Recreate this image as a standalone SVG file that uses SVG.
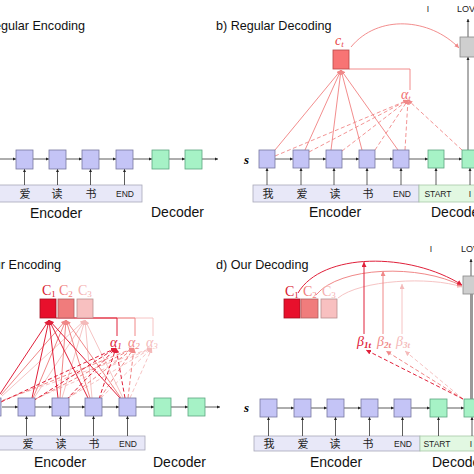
<svg xmlns="http://www.w3.org/2000/svg" width="474" height="474" viewBox="0 0 474 474">
<defs>
<marker id="ab" viewBox="0 0 6 6" refX="6" refY="3" markerWidth="4" markerHeight="4" orient="auto"><path d="M0,0L6,3L0,6z" fill="#222"/></marker>
<marker id="ar1" viewBox="0 0 6 6" refX="6" refY="3" markerWidth="5" markerHeight="5" orient="auto"><path d="M0,0L6,3L0,6z" fill="#e0203a"/></marker>
<marker id="ar2" viewBox="0 0 6 6" refX="6" refY="3" markerWidth="5" markerHeight="5" orient="auto"><path d="M0,0L6,3L0,6z" fill="#f08888"/></marker>
<marker id="ar3" viewBox="0 0 6 6" refX="6" refY="3" markerWidth="5" markerHeight="5" orient="auto"><path d="M0,0L6,3L0,6z" fill="#f4baba"/></marker>
</defs>
<style>
.enc{fill:#c4c4f6;stroke:#7878a0;stroke-width:0.8}
.dec{fill:#a6f2c6;stroke:#5ea680;stroke-width:0.8}
.gray{fill:#cfcfcf;stroke:#888;stroke-width:0.8}
.bar{fill:#e8e8f8;stroke:#a8a8b8;stroke-width:0.8}
.barg{fill:#e2f8e2;stroke:#a8c8a8;stroke-width:0.8}
.ln{stroke:#333;stroke-width:0.8;fill:none;marker-end:url(#ab)}
.title{font-family:"Liberation Sans",Arial,sans-serif;font-size:12.6px;fill:#111}
.big{font-family:"Liberation Sans",Arial,sans-serif;font-size:14px;fill:#111}
.tok{font-family:"Liberation Sans","Noto Sans CJK SC",sans-serif;font-size:11px;fill:#222;text-anchor:middle}
.small{font-family:"Liberation Sans",Arial,sans-serif;font-size:8.5px;fill:#222;text-anchor:middle}
.math{font-family:"Liberation Serif","DejaVu Serif",serif;font-style:italic}
.cl{font-family:"Liberation Serif","DejaVu Serif",serif;font-size:14px}
.r1{stroke:#e0203a;fill:none;stroke-width:1}
.r2{stroke:#f08888;fill:none;stroke-width:1}
.r3{stroke:#f6c4c4;fill:none;stroke-width:1}
.d{stroke-dasharray:4 2.5}
</style>

<!-- Panel a -->
<g id="panel-a">
<text class="title" x="85" y="30" text-anchor="end">a) Regular Encoding</text>
<rect class="bar" x="-2" y="185" width="144" height="17"/>
<text class="tok" x="25" y="198">爱</text><text class="tok" x="57" y="198">读</text><text class="tok" x="91" y="198">书</text><text class="small" x="125" y="197">END</text>
<g id="a-connectors">
<line class="ln" x1="0" y1="159" x2="16" y2="159"/>
<line class="ln" x1="33" y1="159" x2="49" y2="159"/>
<line class="ln" x1="66" y1="159" x2="82" y2="159"/>
<line class="ln" x1="99" y1="159" x2="116" y2="159"/>
<line class="ln" x1="133" y1="159" x2="152" y2="159"/>
<line class="ln" x1="169" y1="159" x2="185" y2="159"/>
<line class="ln" x1="202" y1="159" x2="218" y2="159"/>
<line class="ln" x1="24.5" y1="185" x2="24.5" y2="169"/>
<line class="ln" x1="57.5" y1="185" x2="57.5" y2="169"/>
<line class="ln" x1="90.5" y1="185" x2="90.5" y2="169"/>
<line class="ln" x1="124.5" y1="185" x2="124.5" y2="169"/>
</g>
<g id="a-enc1"><rect class="enc" x="16" y="150" width="17" height="19"/></g>
<g id="a-enc2"><rect class="enc" x="49" y="150" width="17" height="19"/></g>
<g id="a-enc3"><rect class="enc" x="82" y="150" width="17" height="19"/></g>
<g id="a-enc4"><rect class="enc" x="116" y="150" width="17" height="19"/></g>
<g id="a-dec1"><rect class="dec" x="152" y="150" width="17" height="19"/></g>
<g id="a-dec2"><rect class="dec" x="185" y="150" width="17" height="19"/></g>
<text class="big" x="30" y="218">Encoder</text>
<text class="big" x="151" y="217">Decoder</text>
</g>

<!-- Panel b -->
<g id="panel-b">
<text class="title" x="216" y="30">b) Regular Decoding</text>
<rect class="bar" x="253" y="185" width="166" height="17"/>
<rect class="barg" x="419" y="185" width="60" height="17"/>
<text class="tok" x="268" y="198">我</text><text class="tok" x="302" y="198">爱</text><text class="tok" x="335" y="198">读</text><text class="tok" x="368" y="198">书</text><text class="small" x="402" y="197">END</text><text class="small" x="438" y="197">START</text><text class="small" x="470" y="197">I</text>
<text class="math" x="244" y="164" font-size="13" font-weight="bold">s</text>
<g id="b-connectors">
<line class="ln" x1="275" y1="159" x2="293" y2="159"/>
<line class="ln" x1="309" y1="159" x2="326" y2="159"/>
<line class="ln" x1="342" y1="159" x2="359" y2="159"/>
<line class="ln" x1="375" y1="159" x2="393" y2="159"/>
<line class="ln" x1="409" y1="159" x2="428" y2="159"/>
<line class="ln" x1="444" y1="159" x2="462" y2="159"/>
<line class="ln" x1="267" y1="185" x2="267" y2="168"/>
<line class="ln" x1="301" y1="185" x2="301" y2="168"/>
<line class="ln" x1="334" y1="185" x2="334" y2="168"/>
<line class="ln" x1="367" y1="185" x2="367" y2="168"/>
<line class="ln" x1="401" y1="185" x2="401" y2="168"/>
<line class="ln" x1="436" y1="185" x2="436" y2="168"/>
<line class="ln" x1="470" y1="185" x2="470" y2="168"/>
<line class="ln" x1="468" y1="150" x2="468" y2="57"/>
<line class="ln" x1="468" y1="37" x2="468" y2="19"/>
<g stroke="#f08080" stroke-width="0.9" fill="none">
<line x1="275" y1="150" x2="341" y2="70" marker-end="url(#ar2)"/>
<line x1="305" y1="150" x2="341" y2="70" marker-end="url(#ar2)"/>
<line x1="331" y1="150" x2="341" y2="70" marker-end="url(#ar2)"/>
<line x1="362" y1="150" x2="341" y2="70" marker-end="url(#ar2)"/>
<line x1="398" y1="150" x2="341" y2="70" marker-end="url(#ar2)"/>
<polyline points="349,69 410,69 410,90"/>
<path d="M351,47 C378,14 430,18 459,48" marker-end="url(#ar2)"/>
</g>
<g stroke="#f08888" stroke-width="0.9" fill="none" stroke-dasharray="4 2.5">
<line x1="275" y1="156" x2="408" y2="100" marker-end="url(#ar2)"/>
<line x1="309" y1="152" x2="408" y2="100" marker-end="url(#ar2)"/>
<line x1="342" y1="151" x2="408" y2="100" marker-end="url(#ar2)"/>
<line x1="375" y1="150" x2="408" y2="100" marker-end="url(#ar2)"/>
<line x1="405" y1="150" x2="408" y2="100" marker-end="url(#ar2)"/>
<line x1="462" y1="150" x2="408" y2="100" marker-end="url(#ar2)"/>
</g>
</g>
<g id="b-enc1"><rect class="enc" x="259" y="150" width="16" height="18"/></g>
<g id="b-enc2"><rect class="enc" x="293" y="150" width="16" height="18"/></g>
<g id="b-enc3"><rect class="enc" x="326" y="150" width="16" height="18"/></g>
<g id="b-enc4"><rect class="enc" x="359" y="150" width="16" height="18"/></g>
<g id="b-enc5"><rect class="enc" x="393" y="150" width="16" height="18"/></g>
<g id="b-dec1"><rect class="dec" x="428" y="150" width="16" height="18"/></g>
<g id="b-dec2"><rect class="dec" x="462" y="150" width="16" height="18"/></g>
<g id="b-ct"><rect x="333" y="50" width="16" height="19" fill="#f87474" stroke="#b84848" stroke-width="0.8"/>
<text class="math" x="335" y="45" font-size="14" fill="#e84848">c<tspan font-size="9" dy="2">t</tspan></text></g>
<g id="b-alpha"><text class="math" x="401" y="99" font-size="14" fill="#f07070">α<tspan font-size="9" dy="2">t</tspan></text></g>
<g id="b-out"><rect class="gray" x="460" y="37" width="17" height="20"/></g>
<text class="small" x="428" y="12" font-size="9">I</text>
<text x="457" y="12" font-family="Liberation Sans,Arial,sans-serif" font-size="9" fill="#222">LOVE</text>
<text class="big" x="309" y="217">Encoder</text>
<text class="big" x="431" y="217">Decoder</text>
</g>

<!-- Panel c -->
<g id="panel-c">
<text class="title" x="61" y="269" text-anchor="end">c) Our Encoding</text>
<rect class="bar" x="-2" y="436" width="147" height="14"/>
<text class="tok" x="28" y="448">爱</text><text class="tok" x="61" y="448">读</text><text class="tok" x="94" y="448">书</text><text class="small" x="128" y="447">END</text>
<g id="c-connectors">
<g class="r3">
<line x1="2" y1="396" x2="85" y2="320" marker-end="url(#ar3)"/>
<line x1="34" y1="398" x2="85" y2="320" marker-end="url(#ar3)"/>
<line x1="62" y1="398" x2="85" y2="320" marker-end="url(#ar3)"/>
<line x1="92" y1="398" x2="85" y2="320" marker-end="url(#ar3)"/>
<line x1="123" y1="398" x2="85" y2="320" marker-end="url(#ar3)"/>
<polyline points="93,318 153,318 153,336"/>
<g class="d">
<line x1="3" y1="400" x2="152" y2="348" marker-end="url(#ar3)"/>
<line x1="35" y1="399" x2="152" y2="348" marker-end="url(#ar3)"/>
<line x1="68" y1="398" x2="152" y2="348" marker-end="url(#ar3)"/>
<line x1="101" y1="398" x2="152" y2="348" marker-end="url(#ar3)"/>
<line x1="130" y1="398" x2="152" y2="348" marker-end="url(#ar3)"/>
</g></g>
<g class="r2">
<line x1="1" y1="395" x2="66" y2="320" marker-end="url(#ar2)"/>
<line x1="33" y1="398" x2="66" y2="320" marker-end="url(#ar2)"/>
<line x1="60" y1="398" x2="66" y2="320" marker-end="url(#ar2)"/>
<line x1="90" y1="398" x2="66" y2="320" marker-end="url(#ar2)"/>
<line x1="121" y1="398" x2="66" y2="320" marker-end="url(#ar2)"/>
<polyline points="74,318 135,318 135,336"/>
<g class="d">
<line x1="2" y1="401" x2="134" y2="348" marker-end="url(#ar2)"/>
<line x1="34" y1="400" x2="134" y2="348" marker-end="url(#ar2)"/>
<line x1="67" y1="399" x2="134" y2="348" marker-end="url(#ar2)"/>
<line x1="100" y1="398" x2="134" y2="348" marker-end="url(#ar2)"/>
<line x1="128" y1="398" x2="134" y2="348" marker-end="url(#ar2)"/>
</g></g>
<g class="r1">
<line x1="0" y1="394" x2="49" y2="320" marker-end="url(#ar1)"/>
<line x1="32" y1="398" x2="49" y2="320" marker-end="url(#ar1)"/>
<line x1="58" y1="398" x2="49" y2="320" marker-end="url(#ar1)"/>
<line x1="88" y1="398" x2="49" y2="320" marker-end="url(#ar1)"/>
<line x1="120" y1="398" x2="49" y2="320" marker-end="url(#ar1)"/>
<polyline points="56,318 117,318 117,336"/>
<g class="d">
<line x1="1" y1="402" x2="116" y2="348" marker-end="url(#ar1)"/>
<line x1="33" y1="401" x2="116" y2="348" marker-end="url(#ar1)"/>
<line x1="66" y1="400" x2="116" y2="348" marker-end="url(#ar1)"/>
<line x1="99" y1="399" x2="116" y2="348" marker-end="url(#ar1)"/>
<line x1="125" y1="398" x2="116" y2="348" marker-end="url(#ar1)"/>
</g></g>
<line class="ln" x1="2" y1="407" x2="18" y2="407"/>
<line class="ln" x1="35" y1="407" x2="52" y2="407"/>
<line class="ln" x1="69" y1="407" x2="85" y2="407"/>
<line class="ln" x1="102" y1="407" x2="119" y2="407"/>
<line class="ln" x1="136" y1="407" x2="154" y2="407"/>
<line class="ln" x1="171" y1="407" x2="188" y2="407"/>
<line class="ln" x1="198" y1="407" x2="220" y2="407"/>
<line class="ln" x1="26.5" y1="436" x2="26.5" y2="416"/>
<line class="ln" x1="60.5" y1="436" x2="60.5" y2="416"/>
<line class="ln" x1="93.5" y1="436" x2="93.5" y2="416"/>
<line class="ln" x1="127.5" y1="436" x2="127.5" y2="416"/>
</g>
<g id="c-enc0"><rect class="enc" x="-16" y="398" width="17" height="18"/></g>
<g id="c-enc1"><rect class="enc" x="18" y="398" width="17" height="18"/></g>
<g id="c-enc2"><rect class="enc" x="52" y="398" width="17" height="18"/></g>
<g id="c-enc3"><rect class="enc" x="85" y="398" width="17" height="18"/></g>
<g id="c-enc4"><rect class="enc" x="119" y="398" width="17" height="18"/></g>
<g id="c-dec1"><rect class="dec" x="154" y="398" width="17" height="18"/></g>
<g id="c-dec2"><rect class="dec" x="188" y="398" width="17" height="18"/></g>
<g id="c-C1"><rect x="40" y="299" width="16" height="19" fill="#e8102c" stroke="#a01020" stroke-width="0.8"/><text class="cl" x="42" y="295" fill="#d8182e">C<tspan font-size="9" dy="2">1</tspan></text></g>
<g id="c-C2"><rect x="58" y="299" width="16" height="19" fill="#f07c7c" stroke="#b06060" stroke-width="0.8"/><text class="cl" x="59" y="295" fill="#f07c7c">C<tspan font-size="9" dy="2">2</tspan></text></g>
<g id="c-C3"><rect x="77" y="299" width="16" height="19" fill="#f8c0c0" stroke="#b89090" stroke-width="0.8"/><text class="cl" x="78" y="295" fill="#f4b0b0">C<tspan font-size="9" dy="2">3</tspan></text></g>
<g id="c-a1"><text class="math" x="110" y="347" font-size="14" fill="#e0203a">α<tspan font-size="9" dy="2">1</tspan></text></g>
<g id="c-a2"><text class="math" x="128" y="347" font-size="14" fill="#f08888">α<tspan font-size="9" dy="2">2</tspan></text></g>
<g id="c-a3"><text class="math" x="146" y="347" font-size="14" fill="#f4baba">α<tspan font-size="9" dy="2">3</tspan></text></g>
<text class="big" x="34" y="467">Encoder</text>
<text class="big" x="153" y="467">Decoder</text>
</g>

<!-- Panel d -->
<g id="panel-d">
<text class="title" x="216" y="269">d) Our Decoding</text>
<rect class="bar" x="254" y="436" width="166" height="15"/>
<rect class="barg" x="420" y="436" width="60" height="15"/>
<text class="tok" x="269" y="448">我</text><text class="tok" x="303" y="448">爱</text><text class="tok" x="335" y="448">读</text><text class="tok" x="368" y="448">书</text><text class="small" x="403" y="447">END</text><text class="small" x="437" y="447">START</text><text class="small" x="471" y="447">I</text>
<text class="math" x="244" y="412" font-size="13" font-weight="bold">s</text>
<g id="d-connectors">
<line class="ln" x1="277" y1="408" x2="294" y2="408"/>
<line class="ln" x1="311" y1="408" x2="327" y2="408"/>
<line class="ln" x1="344" y1="408" x2="361" y2="408"/>
<line class="ln" x1="378" y1="408" x2="394" y2="408"/>
<line class="ln" x1="411" y1="408" x2="430" y2="408"/>
<line class="ln" x1="447" y1="408" x2="464" y2="408"/>
<line class="ln" x1="268.5" y1="436" x2="268.5" y2="417"/>
<line class="ln" x1="302.5" y1="436" x2="302.5" y2="417"/>
<line class="ln" x1="335.5" y1="436" x2="335.5" y2="417"/>
<line class="ln" x1="369.5" y1="436" x2="369.5" y2="417"/>
<line class="ln" x1="402.5" y1="436" x2="402.5" y2="417"/>
<line class="ln" x1="438.5" y1="436" x2="438.5" y2="417"/>
<line class="ln" x1="472" y1="436" x2="472" y2="417"/>
<line x1="471.5" y1="399" x2="471.5" y2="294" stroke="#999" stroke-width="3"/>
<line class="ln" x1="471" y1="276" x2="471" y2="259"/>
<g class="r3">
<path d="M338,298 C360,280 430,276 462,287" marker-end="url(#ar3)"/>
<line x1="402" y1="334" x2="402" y2="284" marker-end="url(#ar3)"/>
<line class="d" x1="463" y1="399" x2="405" y2="351" marker-end="url(#ar3)"/>
</g>
<g class="r2">
<path d="M316,295 C340,266 420,264 462,286" marker-end="url(#ar2)"/>
<line x1="383" y1="334" x2="383" y2="271" marker-end="url(#ar2)"/>
<line class="d" x1="463" y1="399" x2="386" y2="351" marker-end="url(#ar2)"/>
</g>
<g class="r1" stroke-width="1.2">
<path d="M298,293 C322,252 410,252 462,285" marker-end="url(#ar1)"/>
<line x1="364" y1="334" x2="364" y2="262" marker-end="url(#ar1)"/>
<line class="d" x1="463" y1="399" x2="366" y2="350" marker-end="url(#ar1)"/>
</g>
</g>
<g id="d-enc1"><rect class="enc" x="260" y="399" width="17" height="18"/></g>
<g id="d-enc2"><rect class="enc" x="294" y="399" width="17" height="18"/></g>
<g id="d-enc3"><rect class="enc" x="327" y="399" width="17" height="18"/></g>
<g id="d-enc4"><rect class="enc" x="361" y="399" width="17" height="18"/></g>
<g id="d-enc5"><rect class="enc" x="394" y="399" width="17" height="18"/></g>
<g id="d-dec1"><rect class="dec" x="430" y="399" width="17" height="18"/></g>
<g id="d-dec2"><rect class="dec" x="464" y="399" width="17" height="18"/></g>
<g id="d-out"><rect class="gray" x="463" y="276" width="17" height="18"/></g>
<g id="d-C1"><rect x="284" y="299" width="16" height="19" fill="#e8102c" stroke="#a01020" stroke-width="0.8"/><text class="cl" x="285" y="296" fill="#d8182e">C<tspan font-size="9" dy="2">1</tspan></text></g>
<g id="d-C2"><rect x="301" y="299" width="17" height="19" fill="#f07c7c" stroke="#b06060" stroke-width="0.8"/><text class="cl" x="303" y="296" fill="#f07c7c">C<tspan font-size="9" dy="2">2</tspan></text></g>
<g id="d-C3"><rect x="321" y="299" width="16" height="19" fill="#f8c0c0" stroke="#b89090" stroke-width="0.8"/><text class="cl" x="322" y="296" fill="#f4b0b0">C<tspan font-size="9" dy="2">3</tspan></text></g>
<g id="d-b1"><text class="math" x="357" y="346" font-size="14" fill="#e0203a">β<tspan font-size="9" dy="2" font-weight="bold">1t</tspan></text></g>
<g id="d-b2"><text class="math" x="377" y="346" font-size="14" fill="#f08888">β<tspan font-size="9" dy="2" font-weight="bold">2t</tspan></text></g>
<g id="d-b3"><text class="math" x="396" y="346" font-size="14" fill="#f4baba">β<tspan font-size="9" dy="2" font-weight="bold">3t</tspan></text></g>
<text class="small" x="431" y="252" font-size="9">I</text>
<text x="461" y="252" font-family="Liberation Sans,Arial,sans-serif" font-size="9" fill="#222">LOVE</text>
<text class="big" x="310" y="467">Encoder</text>
<text class="big" x="432" y="467">Decoder</text>
</g>
</svg>
